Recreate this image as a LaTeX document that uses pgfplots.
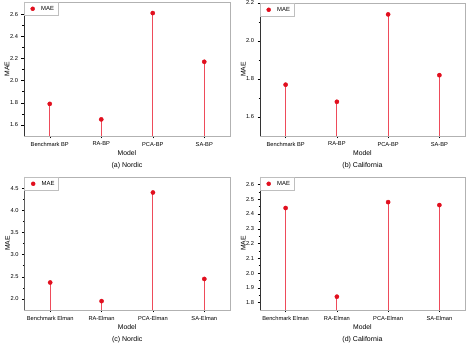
\documentclass[border=0pt]{standalone}
\usepackage{pgfplots}
\pgfplotsset{compat=1.18}
\usepackage{fontspec}
\setmainfont{Liberation Sans}
\definecolor{mkred}{RGB}{225,15,30}
\definecolor{stem}{RGB}{238,75,90}
\pgfplotsset{
  panel/.style={
    scale only axis,
    anchor=north west,
    xmin=0.5, xmax=4.5,
    xtick={1,2,3,4},
    tick pos=left,
    tick align=outside,
    major tick length=2.5pt,
    minor tick length=1.5pt,
    minor y tick num=1,
    tick style={black, line width=0.4pt},
    axis line style={draw=gray!60, line width=0.6pt},
    ticklabel style={font=\fontsize{5.7}{6}\selectfont},
    /pgf/number format/assume math mode=true,
    yticklabel style={/pgf/number format/fixed, /pgf/number format/fixed zerofill, /pgf/number format/precision=1},
    xlabel={Model}, ylabel={MAE},
    every axis x label/.style={at={(axis description cs:0.5,-0.125)}, anchor=center, font=\fontsize{6.8}{7}\selectfont},
    every axis y label/.style={at={(axis description cs:-0.082,0.5)}, anchor=center, rotate=90, font=\fontsize{6.8}{7}\selectfont},
    every axis title/.style={at={(axis description cs:0.5,-0.225)}, anchor=center, font=\fontsize{7}{8}\selectfont},
    legend style={at={(axis description cs:0,1)}, anchor=north west, draw=gray!50, line width=0.4pt,
      font=\fontsize{5.9}{7}\selectfont, inner xsep=2pt, inner ysep=1.8pt, row sep=0pt, legend cell align=left},
    legend image code/.code={\path[draw=none, fill=none] (0pt,0pt) -- (13pt,0pt);
      \draw[mark=*, mark size=2pt, mkred, fill=mkred] plot coordinates {(6.5pt,0pt)};},
  },
  stemplot/.style={ycomb, draw=stem, line width=0.9pt, no marks, forget plot},
  dotplot/.style={only marks, mark=*, mark size=2.1pt, color=mkred, mark options={fill=mkred, draw=mkred}},
}
\newcommand{\frameLB}{\draw[black!80, line width=0.7pt] (rel axis cs:0,1) -- (rel axis cs:0,0) -- (rel axis cs:1,0);}
\begin{document}
\begin{tikzpicture}
\useasboundingbox (0pt,0pt) rectangle (474pt,348pt);
% (a)
\begin{axis}[panel, at={(24pt,346pt)}, width=206pt, height=134pt,
  ymin=1.5, ymax=2.71, ytick={1.6,1.8,2.0,2.2,2.4,2.6},
  xticklabels={Benchmark BP,RA-BP,PCA-BP,SA-BP}, title={(a) Nordic}]
\addplot[stemplot] coordinates {(1,1.79) (2,1.65) (3,2.61) (4,2.17)};
\addplot[dotplot] coordinates {(1,1.79) (2,1.65) (3,2.61) (4,2.17)};
\addlegendentry{MAE}
\frameLB
\end{axis}
% (b)
\begin{axis}[panel, at={(260pt,345pt)}, width=205pt, height=133pt,
  ymin=1.5, ymax=2.2, ytick={1.6,1.8,2.0,2.2},
  xticklabels={Benchmark BP,RA-BP,PCA-BP,SA-BP}, title={(b) California}]
\addplot[stemplot] coordinates {(1,1.77) (2,1.68) (3,2.14) (4,1.82)};
\addplot[dotplot] coordinates {(1,1.77) (2,1.68) (3,2.14) (4,1.82)};
\addlegendentry{MAE}
\frameLB
\end{axis}
% (c)
\begin{axis}[panel, at={(24.5pt,171pt)}, width=205.5pt, height=133pt,
  ymin=1.75, ymax=4.75, ytick={2.0,2.5,3.0,3.5,4.0,4.5},
  xticklabels={Benchmark Elman,RA-Elman,PCA-Elman,SA-Elman}, title={(c) Nordic}]
\addplot[stemplot] coordinates {(1,2.37) (2,1.95) (3,4.40) (4,2.45)};
\addplot[dotplot] coordinates {(1,2.37) (2,1.95) (3,4.40) (4,2.45)};
\addlegendentry{MAE}
\frameLB
\end{axis}
% (d)
\begin{axis}[panel, at={(260pt,171pt)}, width=205pt, height=133pt,
  ymin=1.75, ymax=2.65, ytick={1.8,1.9,2.0,2.1,2.2,2.3,2.4,2.5,2.6},
  xticklabels={Benchmark Elman,RA-Elman,PCA-Elman,SA-Elman}, title={(d) California}]
\addplot[stemplot] coordinates {(1,2.44) (2,1.84) (3,2.48) (4,2.46)};
\addplot[dotplot] coordinates {(1,2.44) (2,1.84) (3,2.48) (4,2.46)};
\addlegendentry{MAE}
\frameLB
\end{axis}
\end{tikzpicture}
\end{document}
